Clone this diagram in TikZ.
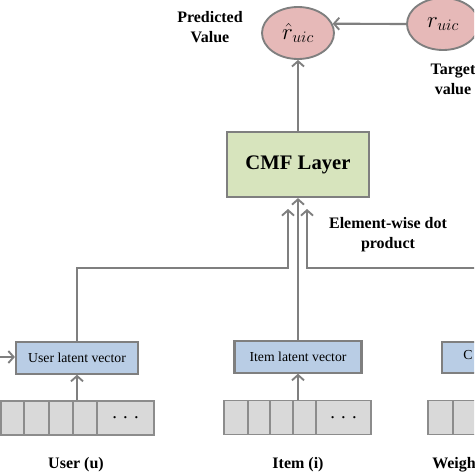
\documentclass[tikz,border=0pt]{standalone}
\usepackage{fontspec}
\setmainfont{Liberation Serif}
\usetikzlibrary{shapes.geometric,arrows.meta}
\definecolor{lngray}{HTML}{7F7F7F}
\definecolor{cellgray}{HTML}{D9D9D9}
\definecolor{cellline}{HTML}{8C8C8C}
\definecolor{pinkfill}{HTML}{E6B9B8}
\definecolor{greenfill}{HTML}{D7E4BD}
\definecolor{bluefill}{HTML}{B9CDE5}
\tikzset{
  arr/.style={draw=lngray, line width=1.6pt, -{Straight Barb[length=4pt,width=9pt,line width=1.4pt]}},
  valnode/.style={ellipse, draw=lngray, line width=1.4pt, fill=pinkfill, minimum width=54pt, minimum height=39pt, inner sep=0pt, font=\fontsize{18}{20}\selectfont},
  cmfbox/.style={rectangle, draw=lngray, line width=1.6pt, fill=greenfill, minimum width=106.5pt, minimum height=48.75pt, inner sep=0pt, font=\fontsize{15.5}{18}\selectfont\bfseries},
  vecbox/.style={rectangle, draw=lngray, line width=1.6pt, fill=bluefill, minimum height=23.5pt, inner sep=0pt, font=\fontsize{10.3}{12}\selectfont},
  cell/.style={rectangle, draw=cellline, line width=1.1pt, fill=cellgray, minimum height=25.5pt, inner sep=0pt, font=\fontsize{14}{14}\selectfont},
  lbl/.style={font=\fontsize{12}{15}\selectfont\bfseries, align=center, inner sep=0pt},
}
\begin{document}
\begin{tikzpicture}[x=0.75pt,y=-0.75pt]
\useasboundingbox (0,0) rectangle (474,474);
\clip (0,0) rectangle (474,474);
\fill[white] (0,0) rectangle (474,474);

% value ellipses
\node[valnode] (pred) at (298,33) {$\hat{r}_{uic}$};
\node[valnode] (target) at (443,24) {$r_{uic}$};
\node[lbl] (predlbl) at (210,27) {Predicted\\Value};
\node[lbl] (targetlbl) at (453,79) {Target\\value};

% CMF layer
\node[cmfbox] (cmf) at (298,164.5) {CMF Layer};
\node[lbl] (ewlbl) at (388,235) {Element-wise dot\\product};

% latent vector boxes
\node[vecbox, minimum width=91.5pt] (ubox) at (77,358) {User latent vector};
\node[vecbox, minimum width=95.25pt] (ibox) at (298,357) {Item latent vector};
\node[vecbox, minimum width=96pt] (cbox) at (506,357.5) {};
\node[font=\fontsize{10.3}{12}\selectfont, anchor=west, inner sep=0pt] (ctext) at (463,355) {C};

% user vector cells
\node[cell, minimum width=17.25pt] (u1) at (12.5,418) {};
\node[cell, minimum width=18.75pt] (u2) at (36.5,418) {};
\node[cell, minimum width=18pt] (u3) at (61,418) {};
\node[cell, minimum width=18pt] (u4) at (85,418) {};
\node[cell, minimum width=42.75pt] (u5) at (125.5,418) {. . .};

% item vector cells
\node[cell, minimum width=18pt] (i1) at (236,417.5) {};
\node[cell, minimum width=16.5pt] (i2) at (259,417.5) {};
\node[cell, minimum width=17.25pt] (i3) at (281.5,417.5) {};
\node[cell, minimum width=17.25pt] (i4) at (304.5,417.5) {};
\node[cell, minimum width=41.25pt] (i5) at (343.5,417.5) {. . .};

% context vector cells
\node[cell, minimum width=18.75pt] (c1) at (440.5,417.5) {};
\node[cell, minimum width=18pt] (c2) at (465,417.5) {};
\node[cell, minimum width=18pt] (c3) at (489,417.5) {};

% bottom labels
\node[lbl] (ulbl) at (76,465) {User (u)};
\node[lbl] (ilbl) at (298,465) {Item (i)};
\node[lbl, anchor=west] (wlbl) at (432,465) {Weigh};

% connectors
\draw[arr] (target.west) -- (pred.15);
\draw[arr] (cmf.north) -- (pred.south);
\draw[arr] (ibox.north) -- (cmf.south);

\coordinate (jl) at (288,268);
\coordinate (tl) at (288,209);
\coordinate (jr) at (307,268);
\coordinate (tr) at (307,209);
\draw[arr] (ubox.north) |- (jl) -- (tl);
\draw[arr] (cbox.north) |- (jr) -- (tr);

\coordinate (lin) at (-5,357);
\draw[arr] (lin) -- (ubox.west |- lin);

\draw[arr] (ubox.south |- u4.north) -- (ubox.south);
\draw[arr] (ibox.south |- i4.north) -- (ibox.south);
\end{tikzpicture}
\end{document}
